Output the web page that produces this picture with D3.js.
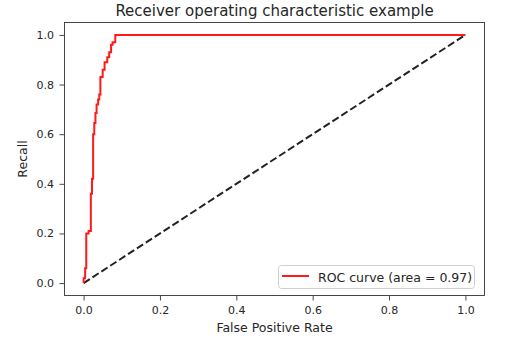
<!DOCTYPE html>
<html>
<head>
<meta charset="utf-8">
<script src="https://cdn.jsdelivr.net/npm/d3@7/dist/d3.min.js"></script>
<style>
  html, body { margin: 0; padding: 0; background: #fff; }
  svg { display: block; font-family: "DejaVu Sans", sans-serif; }
</style>
</head>
<body>
<svg id="chart" width="518" height="340"></svg>
<script>
// ROC curve points (false positive rate / true positive rate per threshold)
const fpr = [0, 0, 0.004, 0.004, 0.007, 0.007, 0.013, 0.013, 0.019, 0.019, 0.022, 0.022,
             0.025, 0.025, 0.028, 0.028, 0.031, 0.031, 0.034, 0.034, 0.038, 0.038, 0.041, 0.041,
             0.044, 0.044, 0.050, 0.050, 0.055, 0.055, 0.062, 0.062, 0.067, 0.067, 0.072, 0.072,
             0.076, 0.076, 0.083, 0.083, 1.0];
const tpr = [0, 0.02, 0.02, 0.06, 0.06, 0.20, 0.20, 0.21, 0.21, 0.36, 0.36, 0.42,
             0.42, 0.60, 0.60, 0.645, 0.645, 0.685, 0.685, 0.72, 0.72, 0.74, 0.74, 0.76,
             0.76, 0.83, 0.83, 0.86, 0.86, 0.89, 0.89, 0.91, 0.91, 0.93, 0.93, 0.96,
             0.96, 0.97, 0.97, 1.0, 1.0];
const rocArea = 0.97;
const chanceLine = [[0, 0], [1, 1]];
const xTicks = [0, 0.2, 0.4, 0.6, 0.8, 1.0];
const yTicks = [0, 0.2, 0.4, 0.6, 0.8, 1.0];
const titleText = "Receiver operating characteristic example";
const xLabelText = "False Positive Rate";
const yLabelText = "Recall";

const svg = d3.select("#chart");
const plot = { left: 64.5, right: 484.5, top: 22.5, bottom: 295.5 };

const x = d3.scaleLinear().domain([-0.05, 1.05]).range([plot.left, plot.right]);
const y = d3.scaleLinear().domain([-0.05, 1.05]).range([plot.bottom, plot.top]);

const textColor = "#262626";
const rocColor = "#ff1a1a";

// chance diagonal
svg.append("path")
  .datum(chanceLine)
  .attr("d", d3.line().x(d => x(d[0])).y(d => y(d[1])))
  .attr("fill", "none")
  .attr("stroke", "#222")
  .attr("stroke-width", 2)
  .attr("stroke-dasharray", "7.4,3.2");

// ROC curve
const rocPts = fpr.map((f, i) => [f, tpr[i]]);
svg.append("path")
  .datum(rocPts)
  .attr("d", d3.line().x(d => x(d[0])).y(d => y(d[1])))
  .attr("fill", "none")
  .attr("stroke", rocColor)
  .attr("stroke-width", 2)
  .attr("stroke-linejoin", "miter");

// axes
const xAxis = d3.axisBottom(x).tickValues(xTicks).tickFormat(d3.format(".1f")).tickSize(5).tickPadding(6);
const yAxis = d3.axisLeft(y).tickValues(yTicks).tickFormat(d3.format(".1f")).tickSize(5).tickPadding(5.5);

const gx = svg.append("g").attr("transform", `translate(0,${plot.bottom})`).call(xAxis);
const gy = svg.append("g").attr("transform", `translate(${plot.left},0)`).call(yAxis);
[gx, gy].forEach(g => {
  g.select(".domain").remove();
  g.selectAll(".tick line").attr("stroke", "#333").attr("stroke-width", 0.9);
  g.selectAll(".tick text").attr("fill", textColor).style("font-size", "11px")
    .style("font-family", "DejaVu Sans, sans-serif");
});

// frame
svg.append("rect")
  .attr("x", plot.left).attr("y", plot.top)
  .attr("width", plot.right - plot.left).attr("height", plot.bottom - plot.top)
  .attr("fill", "none").attr("stroke", "#333").attr("stroke-width", 0.9);

// title and axis labels
svg.append("text")
  .attr("x", (plot.left + plot.right) / 2).attr("y", 16)
  .attr("text-anchor", "middle").attr("fill", textColor)
  .style("font-size", "15px").text(titleText);

svg.append("text")
  .attr("x", (plot.left + plot.right) / 2).attr("y", 332)
  .attr("text-anchor", "middle").attr("fill", textColor)
  .style("font-size", "12.5px").text(xLabelText);

svg.append("text")
  .attr("transform", `translate(27,${(plot.top + plot.bottom) / 2}) rotate(-90)`)
  .attr("text-anchor", "middle").attr("fill", textColor)
  .style("font-size", "12.5px").text(yLabelText);

// legend
const lg = svg.append("g");
lg.append("rect")
  .attr("x", 278.5).attr("y", 265.5).attr("width", 196).attr("height", 23)
  .attr("rx", 3).attr("fill", "#fff").attr("fill-opacity", 0.8)
  .attr("stroke", "#d0d0d0").attr("stroke-width", 1);
lg.append("line")
  .attr("x1", 282).attr("x2", 309).attr("y1", 276).attr("y2", 276)
  .attr("stroke", rocColor).attr("stroke-width", 2);
lg.append("text")
  .attr("x", 318).attr("y", 282).attr("fill", textColor)
  .style("font-size", "12.5px").text(`ROC curve (area = ${rocArea.toFixed(2)})`);
</script>
</body>
</html>
